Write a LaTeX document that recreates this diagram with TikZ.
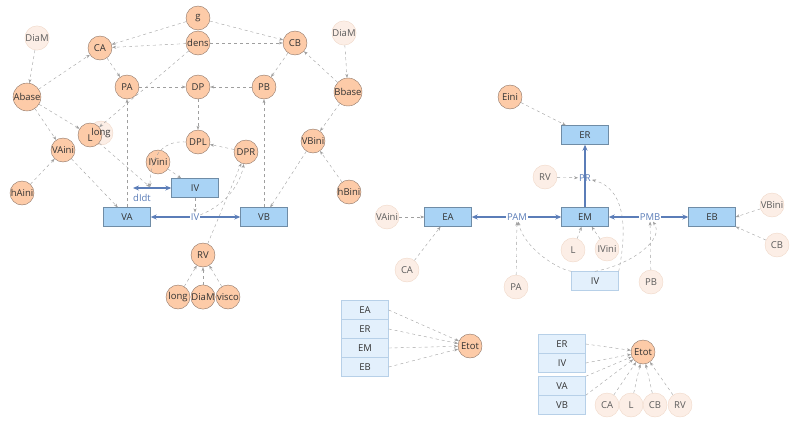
\documentclass[tikz,border=0pt]{standalone}
\usepackage{fontspec}
\setmainfont{Open Sans}
\usetikzlibrary{arrows.meta}
\definecolor{orf}{HTML}{FDCBA8}
\definecolor{ord}{HTML}{8C7466}
\definecolor{ltf}{HTML}{FCEEE6}
\definecolor{ltd}{HTML}{F0D8C8}
\definecolor{bxf}{HTML}{A9D3F5}
\definecolor{bxd}{HTML}{6F8CA6}
\definecolor{lbf}{HTML}{E3F0FC}
\definecolor{lbd}{HTML}{B7D0E8}
\definecolor{flw}{HTML}{5B7DB8}
\definecolor{txt}{HTML}{333333}
\begin{document}
\begin{tikzpicture}[x=1pt,y=-1pt,
 every node/.style={font=\fontsize{9.5}{10}\selectfont,text=txt,inner sep=0pt},
 st/.style={circle,draw=ord,fill=orf,minimum size=24pt},
 lt/.style={circle,draw=ltd,fill=ltf,minimum size=24pt,text=txt!80},
 bx/.style={rectangle,draw=bxd,fill=bxf,minimum width=47pt,minimum height=19pt},
 lb/.style={rectangle,draw=lbd,fill=lbf,minimum width=47pt,minimum height=19pt},
 lab/.style={text=flw,fill=white,inner sep=1pt},
 d/.style={draw=gray!75,dashed,-{Stealth[length=4pt,width=3pt]},thin},
 f/.style={draw=flw,line width=1.2pt,-{Stealth[length=6pt,width=5pt]}},
 ff/.style={draw=flw,line width=1.2pt,{Stealth[length=6pt,width=5pt]}-{Stealth[length=6pt,width=5pt]}}]
\useasboundingbox (0,0) rectangle (800,423);
% left
\node[lt] (diam1) at (37,38) {DiaM};
\node[lt] (diam2) at (344,33) {DiaM};
\node[lt] (long1) at (101,133) {};
\node[st] (g) at (198,18) {g};
\node[st] (dens) at (198,43) {dens};
\node[st] (ca) at (100,48) {CA};
\node[st] (cb) at (295,43) {CB};
\node[st] (abase) at (27,97) {Abase};
\node[st] (pa) at (127,87) {PA};
\node[st] (dp) at (198,87) {DP};
\node[st] (pb) at (264,87) {PB};
\node[st] (bbase) at (348,92) {Bbase};
\node[st] (L) at (90,135) {};
\node at (90,138) {L};
\node (longt) at (101,133) {long};
\node[st] (vaini) at (63,150) {VAini};
\node[st] (dpl) at (198,142) {DPL};
\node[st] (dpr) at (246,152) {DPR};
\node[st] (vbini) at (313,141) {VBini};
\node[st] (ivini) at (158,162) {IVini};
\node[bx] (iv) at (195,188) {IV};
\node[bx] (va) at (127,217) {VA};
\node[bx] (vb) at (264,217) {VB};
\node[st] (haini) at (22,193) {hAini};
\node[st] (hbini) at (349,192) {hBini};
\node[st] (rv) at (203,255) {RV};
\node[st] (long2) at (178,297) {long};
\node[st] (diam3) at (203,297) {DiaM};
\node[st] (visco) at (228,297) {visco};
\coordinate (didt) at (133,188);
\node[lab] (didtl) at (142,198) {dIdt};
\node[lab] (ivl) at (195,217) {IV};
\draw[d] (g) -- (ca); \draw[d] (g) -- (cb);
\draw[d] (dens) -- (ca); \draw[d] (dens) -- (cb);
\draw[d] (dens) -- (L);
\draw[d] (diam1) -- (abase); \draw[d] (abase) -- (ca);
\draw[d] (abase) -- (L); \draw[d] (abase) -- (vaini);
\draw[d] (ca) -- (pa); \draw[d] (pa) -- (dp); \draw[d] (pb) -- (dp);
\draw[d] (cb) -- (pb); \draw[d] (bbase) -- (cb); \draw[d] (diam2) -- (bbase);
\draw[d] (bbase) -- (vbini); \draw[d] (hbini) -- (vbini); \draw[d] (vbini) -- (vb);
\draw[d] (haini) -- (vaini); \draw[d] (vaini) -- (va);
\draw[d] (dp) -- (dpl); \draw[d] (dpr) -- (dpl);
\draw[d] (dpl.west) .. controls (160,140) and (150,160) .. (150,187);
\draw[d] (L) -- (150,187);
\draw[d] (ivini) -- (iv);
\draw[d] (va.north) -- (pa); \draw[d] (vb.north) -- (pb);
\draw[d] (iv) -- (ivl);
\draw[d] (rv) -- (dpr);
\draw[d] (ivl) .. controls (225,205) and (240,185) .. (dpr);
\draw[d] (long2) -- (rv); \draw[d] (diam3) -- (rv); \draw[d] (visco) -- (rv);
\draw[ff] (didt) -- (iv.west);
\draw[f] (ivl) -- (va.east); \draw[f] (ivl) -- (vb.west);
% right
\node[st] (eini) at (510,97) {Eini};
\node[bx] (er) at (585,135) {ER};
\node[lt] (rvb) at (545,177) {RV};
\node[bx] (ea) at (448,217) {EA};
\node[bx] (em) at (585,217) {EM};
\node[bx] (eb) at (712,217) {EB};
\node[lt] (vainib) at (387,217) {VAini};
\node[lt] (vbinib) at (772,205) {VBini};
\node[lt] (cbb) at (777,245) {CB};
\node[lt] (cab) at (407,270) {CA};
\node[lt] (pab) at (516,287) {PA};
\node[lt] (lb) at (573,250) {L};
\node[lt] (ivinib) at (607,249) {IVini};
\node[lb] (ivb) at (595,281) {IV};
\node[lt] (pbb) at (651,282) {PB};
\node[lab] (pr) at (585,178) {PR};
\node[lab] (pam) at (517,217) {PAM};
\node[lab] (pmb) at (650,217) {PMB};
\draw[d] (eini) -- (er);
\draw[d] (rvb) -- (pr);
\draw[d] (ivb.north east) .. controls (625,240) and (630,190) .. (pr);
\draw[d] (vainib) -- (ea); \draw[d] (cab) -- (ea);
\draw[d] (pab) -- (pam);
\draw[d] (ivb.north west) .. controls (560,270) and (525,250) .. (pam);
\draw[d] (lb) -- (em); \draw[d] (ivinib) -- (em);
\draw[d] (ivb.north) .. controls (630,265) and (665,240) .. (pmb);
\draw[d] (pbb) -- (pmb);
\draw[d] (vbinib) -- (eb.east); \draw[d] (cbb) -- (eb.south east);
\draw[f] (em) -- (er);
\draw[f] (pam) -- (ea.east); \draw[f] (pam) -- (em.west);
\draw[f] (pmb) -- (em.east); \draw[f] (pmb) -- (eb.west);
% bottom
\node[lb] (b1) at (365,310) {EA};
\node[lb] (b2) at (365,329) {ER};
\node[lb] (b3) at (365,348) {EM};
\node[lb] (b4) at (365,367) {EB};
\node[st] (etot1) at (470,346) {Etot};
\foreach \b in {b1,b2,b3,b4} \draw[d] (\b.east) -- (etot1);
\node[lb] (c1) at (562,344) {ER};
\node[lb] (c2) at (562,363) {IV};
\node[lb] (c3) at (562,386) {VA};
\node[lb] (c4) at (562,405) {VB};
\node[st] (etot2) at (643,352) {Etot};
\node[lt] (cac) at (607,405) {CA};
\node[lt] (lc) at (631,405) {L};
\node[lt] (cbc) at (655,405) {CB};
\node[lt] (rvc) at (680,405) {RV};
\draw[d] (c1.east) -- (etot2); \draw[d] (c2.east) -- (etot2);
\draw[d] (c3.north east) -- (etot2); \draw[d] (c4.north east) -- (etot2);
\foreach \b in {cac,lc,cbc,rvc} \draw[d] (\b) -- (etot2);
\end{tikzpicture}
\end{document}
